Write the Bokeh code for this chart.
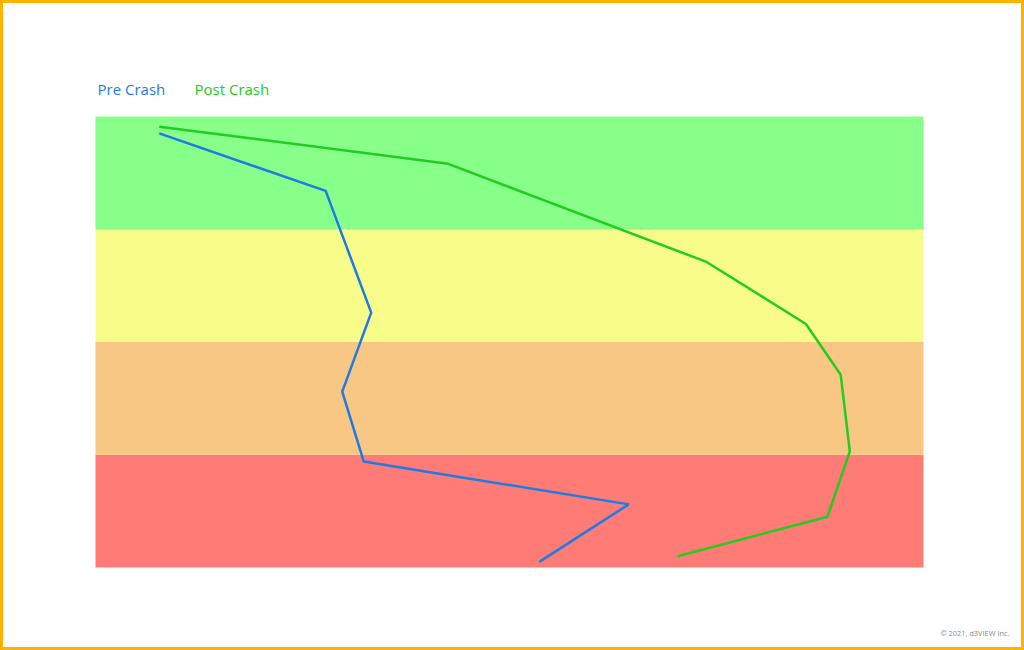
from bokeh.plotting import figure
from bokeh.models import Range1d
from bokeh.core.properties import value
from bokeh.embed import file_html
from bokeh.resources import INLINE

# Series data (x: 0-100 scale, y: 0-4 band scale)
pre_x = [7.7, 27.8, 33.3, 29.8, 32.4, 64.4, 53.6]
pre_y = [3.85, 3.34, 2.26, 1.56, 0.94, 0.56, 0.05]
post_x = [7.7, 42.6, 73.8, 85.8, 90.0, 91.1, 88.4, 70.3]
post_y = [3.91, 3.58, 2.71, 2.16, 1.71, 1.03, 0.45, 0.10]

# Background bands
band_centers = [0.5, 1.5, 2.5, 3.5]
band_colors = ["#FF7B75", "#F9C784", "#F8FC88", "#88FF88"]

series_names = ["Pre Crash", "Post Crash"]
series_colors = ["#1E7BE6", "#22CC22"]
copyright_text = ["© 2021, d3VIEW Inc."]

B = 3  # outer border width (drawn inside the element, border-box)
W, H = 1024, 650
# plot area in page pixels: x 95..923, y 116..567
px_per_x = 828 / 100.0
px_per_y = 451 / 4.0
x0 = -(95 - B) / px_per_x
x1 = x0 + W / px_per_x
y1 = 4 + (116 - B) / px_per_y
y0 = y1 - H / px_per_y

p = figure(width=W, height=H, output_backend="svg", toolbar_location=None,
           x_range=Range1d(x0, x1), y_range=Range1d(y0, y1),
           min_border=0)
p.styles = {"border": f"{B}px solid #FFB300"}
p.axis.visible = False
p.xgrid.visible = False
p.ygrid.visible = False
p.outline_line_color = None
p.background_fill_color = "white"
p.border_fill_color = "white"

p.hbar(y=band_centers, height=1, left=0, right=100, color=band_colors, line_color=None)

p.line(pre_x, pre_y, line_color=series_colors[0], line_width=2.5)
p.line(post_x, post_y, line_color=series_colors[1], line_width=2.5)

# Legend as coloured texts
legend_x = [(97 - 95) / px_per_x, (194 - 95) / px_per_x]
legend_y = [4 + (116 - 88) / px_per_y] * 2
p.text(x=legend_x, y=legend_y, text=series_names, text_color=series_colors,
       text_font=value("Open Sans"), text_font_size="15px",
       text_baseline="middle", text_align="left")

p.text(x=[(1009 - 95) / px_per_x], y=[-(632 - 567) / px_per_y], text=copyright_text,
       text_color="#8a8a8a", text_font=value("Open Sans"), text_font_size="7.4px",
       text_baseline="middle", text_align="right")

html = file_html(p, INLINE)
html = html.replace("<body>", '<body style="margin:0;overflow:hidden">', 1)
open("out.html", "w").write(html)
